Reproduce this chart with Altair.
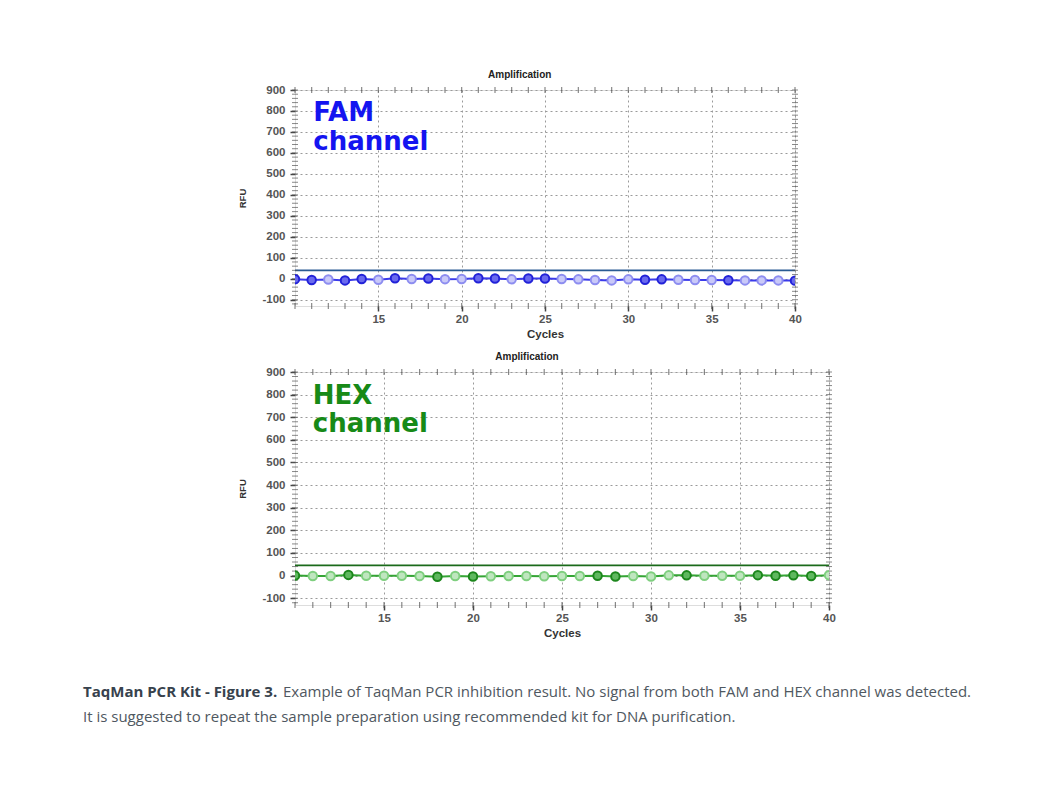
import altair as alt
import pandas as pd

# ---------------- data ----------------
cycles = list(range(10, 41))
fam_rfu = [-2, -6, -4, -8, -1, -5, 2, -1, 1, -2, -1, 2, 1, -3, 1, 1, -1, -3, -6, -8,
           -3, -5, -3, -5, -6, -6, -7, -8, -8, -8, -9]
fam_shade = ["dark", "dark", "light", "dark", "dark", "light", "dark", "light", "dark", "light",
             "light", "dark", "dark", "light", "dark", "dark", "light", "light", "light", "light",
             "light", "dark", "dark", "light", "light", "light", "dark", "light", "light", "light", "dark"]
hex_rfu = [0, -2, -2, 3, -1, -1, -1, -2, -5, -2, -4, -3, -2, -2, -3, -2, -2, -1, -4, -2,
           -4, 1, 1, -1, -1, -1, 2, -1, 1, -2, 2]
hex_shade = ["dark", "light", "light", "dark", "light", "light", "light", "light", "dark", "light",
             "dark", "light", "light", "light", "light", "light", "light", "dark", "dark", "light",
             "light", "light", "dark", "light", "light", "light", "dark", "dark", "dark", "dark", "light"]
fam_threshold = [40]
hex_threshold = [45]

x_domain = [10, 40]
y_domain = [-130, 900]
x_major = [15, 20, 25, 30, 35, 40]
y_major = list(range(-100, 901, 100))
y_minor = list(range(-120, 901, 20))

chart_title = "Amplification"
x_title = "Cycles"
y_title = "RFU"
caption_bold = "TaqMan PCR Kit - Figure 3."
caption_rest = "Example of TaqMan PCR inhibition result. No signal from both FAM and HEX channel was detected."
caption_line2 = "It is suggested to repeat the sample preparation using recommended kit for DNA purification."

AX_FONT = "Liberation Sans"


def panel(rfu, shade, threshold, label, label_pos, line_h, colors, width, height,
          with_caption=False):
    df = pd.DataFrame({"cycle": cycles, "rfu": rfu, "shade": shade})
    xs = alt.Scale(domain=x_domain, nice=False, zero=False)
    ys = alt.Scale(domain=y_domain, nice=False, zero=False)

    x_axis = alt.Axis(values=x_major, title=x_title, grid=True, gridDash=[2, 3],
                      gridColor="#9a9a9a", gridWidth=1, tickSize=5, tickColor="#444",
                      tickWidth=1.5, domain=False, labelFont=AX_FONT, labelFontSize=11.5,
                      labelFontWeight="bold", labelColor="#555", labelPadding=2,
                      titleFont=AX_FONT, titleFontSize=11.5, titleFontWeight="bold",
                      titleColor="#333", titlePadding=4, labelFlush=False)
    y_axis = alt.Axis(values=y_major, title=y_title, grid=True, gridDash=[2, 3],
                      gridColor="#9a9a9a", gridWidth=1, tickSize=5, tickColor="#444",
                      tickWidth=1.5, domain=False, labelFont=AX_FONT, labelFontSize=11.5,
                      labelFontWeight="bold", labelColor="#555", labelPadding=5,
                      labelExpr="'' + datum.value",
                      titleFont=AX_FONT, titleFontSize=9.5, titleFontWeight="bold",
                      titleColor="#333", titlePadding=14)

    def X(field=None, datum=None):
        if datum is not None:
            return alt.X(datum=datum, type="quantitative", scale=xs, axis=x_axis)
        return alt.X(field, type="quantitative", scale=xs, axis=x_axis, title=x_title)

    def Y(field=None, datum=None):
        if datum is not None:
            return alt.Y(datum=datum, type="quantitative", scale=ys, axis=y_axis)
        return alt.Y(field, type="quantitative", scale=ys, axis=y_axis, title=y_title)

    line = alt.Chart(df).mark_line(color=colors["line"], strokeWidth=2, clip=True).encode(
        x=X("cycle"), y=Y("rfu"))
    pts = alt.Chart(df).mark_circle(size=72, strokeWidth=2, opacity=1, clip=True).encode(
        x=X("cycle"), y=Y("rfu"),
        fill=alt.Fill("shade:N", scale=alt.Scale(domain=["dark", "light"],
                                                 range=[colors["dark_fill"], colors["light_fill"]]),
                      legend=None),
        stroke=alt.Stroke("shade:N", scale=alt.Scale(domain=["dark", "light"],
                                                     range=[colors["dark"], colors["light"]]),
                          legend=None),
    )
    thr = alt.Chart(pd.DataFrame({"rfu": threshold})).mark_rule(
        color=colors["thr"], strokeWidth=1.6).encode(y=Y("rfu"))

    left_ticks = alt.Chart(pd.DataFrame({"rfu": y_minor})).mark_tick(
        orient="horizontal", size=6, thickness=1, color="#555").encode(
        x=X(datum=x_domain[0]), y=Y("rfu"))
    right_ticks = alt.Chart(pd.DataFrame({"rfu": y_minor})).mark_tick(
        orient="horizontal", size=6, thickness=1, color="#555").encode(
        x=X(datum=x_domain[1]), y=Y("rfu"))
    bottom_ticks = alt.Chart(pd.DataFrame({"cycle": cycles})).mark_tick(
        orient="vertical", size=6, thickness=1.2, color="#555").encode(
        x=X("cycle"), y=Y(datum=y_domain[0]))
    top_ticks = alt.Chart(pd.DataFrame({"cycle": cycles})).mark_tick(
        orient="vertical", size=6, thickness=1.2, color="#555").encode(
        x=X("cycle"), y=Y(datum=y_domain[1]))

    lab = alt.Chart(pd.DataFrame({"t": [label]})).mark_text(
        align="left", baseline="alphabetic", lineBreak="\n", lineHeight=line_h, fontSize=26,
        fontWeight="bold", font="DejaVu Sans", color=colors["label"]).encode(
        x=X(datum=label_pos[0]), y=Y(datum=label_pos[1]), text="t:N")

    layers = [line, thr, left_ticks, right_ticks, bottom_ticks, top_ticks, pts, lab]

    if with_caption:
        cap = pd.DataFrame({"b": [caption_bold], "r": [caption_rest], "l2": [caption_line2]})
        common = dict(align="left", baseline="middle", fontSize=15, font="Open Sans")
        c1 = alt.Chart(cap).mark_text(fontWeight="bold", color="#37424d", **common).encode(
            x=alt.value(-212), y=alt.value(height + 87), text="b:N")
        c2 = alt.Chart(cap).mark_text(color="#4f5861", **common).encode(
            x=alt.value(-12), y=alt.value(height + 87), text="r:N")
        c3 = alt.Chart(cap).mark_text(color="#4f5861", **common).encode(
            x=alt.value(-212), y=alt.value(height + 112), text="l2:N")
        layers += [c1, c2, c3]

    return alt.layer(*layers).properties(
        width=width, height=height,
        title=alt.TitleParams(chart_title, fontSize=10, fontWeight="bold", font=AX_FONT,
                              color="#222", offset=4, anchor="middle", frame="bounds"),
    )


fam_colors = dict(line="#3b3bea", dark="#2222d8", light="#8d8df0", dark_fill="#6a6aee",
                  light_fill="#c9c9f8", thr="#2a5b93", label="#1414f0")
hex_colors = dict(line="#35a535", dark="#1c861c", light="#7fcf7f", dark_fill="#5fb85f",
                  light_fill="#bfe6bf", thr="#1a6a1a", label="#178a17")

top = panel(fam_rfu, fam_shade, fam_threshold, "FAM\nchannel", (11.1, 752), 29,
            fam_colors, 500, 216)
bottom = panel(hex_rfu, hex_shade, hex_threshold, "HEX\nchannel", (11.0, 758), 28,
               hex_colors, 534, 233, with_caption=True)

chart = alt.vconcat(top, bottom, spacing=66, bounds="flush").resolve_scale(
    fill="independent", stroke="independent"
).properties(
    padding={"left": 74, "top": 61, "right": 10, "bottom": 10}
).configure_view(stroke="#4a4a4a", strokeWidth=2).configure(background="white")

chart.save("out.html", embed_options={"renderer": "svg", "actions": False})
